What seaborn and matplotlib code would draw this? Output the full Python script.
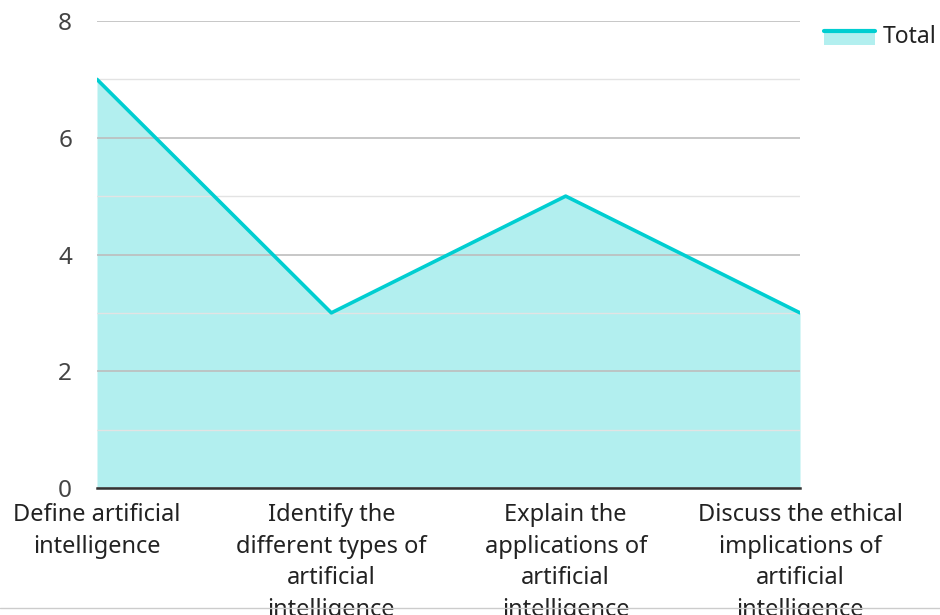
import matplotlib
matplotlib.use("Agg")
import matplotlib.pyplot as plt
import numpy as np
import pandas as pd
import seaborn as sns
from matplotlib.legend_handler import HandlerBase
from matplotlib.lines import Line2D
from matplotlib.patches import Rectangle
from matplotlib.ticker import MultipleLocator

categories = [
    "Define artificial\nintelligence",
    "Identify the\ndifferent types of\nartificial\nintelligence",
    "Explain the\napplications of\nartificial\nintelligence",
    "Discuss the ethical\nimplications of\nartificial\nintelligence",
]
totals = [7, 3, 5, 3]
series_name = "Total"

line_color = "#00CED1"
fill_color = "#B2EFEF"

sns.set_theme(style="white")
plt.rcParams["font.family"] = ["Noto Sans", "DejaVu Sans"]

df = pd.DataFrame({"pos": np.arange(len(categories)), "value": totals})

fig = plt.figure(figsize=(9.4, 6.15), dpi=100)
ax = fig.add_axes([97 / 940, 1 - 488 / 615, (800 - 97) / 940, (488 - 21) / 615])

ax.fill_between(df["pos"], df["value"], 0, color=fill_color, lw=0, zorder=1)
sns.lineplot(data=df, x="pos", y="value", color=line_color, lw=2.6, ax=ax, zorder=3)

ax.set_xlim(0, len(categories) - 1)
ax.set_ylim(0, 8)
ax.yaxis.set_major_locator(MultipleLocator(2))
ax.yaxis.set_minor_locator(MultipleLocator(1))
ax.set_axisbelow(False)
ax.grid(axis="y", which="major", color="#bdbdbd", lw=1.2, zorder=2)
ax.grid(axis="y", which="minor", color="#e3e3e3", lw=1.0, zorder=2)
ax.grid(axis="x", visible=False)

for s in ["top", "right", "left"]:
    ax.spines[s].set_visible(False)
ax.spines["bottom"].set_color("#333333")
ax.spines["bottom"].set_linewidth(1.8)
ax.spines["bottom"].set_zorder(4)

ax.set_xticks(df["pos"])
ax.set_xticklabels(categories, fontsize=17, color="#222222", linespacing=1.42)
ax.tick_params(axis="x", length=0, pad=11)
ax.tick_params(axis="y", which="both", length=0, pad=18, labelsize=17.5, labelcolor="#444444")
ax.set_xlabel("")
ax.set_ylabel("")


class FillLineHandler(HandlerBase):
    def create_artists(self, legend, orig_handle, xdescent, ydescent, width, height, fontsize, trans):
        top = -ydescent + height * 0.75
        r = Rectangle((-xdescent, -ydescent - height * 0.1), width, top + ydescent + height * 0.1,
                      fc=fill_color, ec="none", transform=trans)
        l = Line2D([-xdescent, -xdescent + width], [top, top], color=line_color, lw=3, transform=trans)
        return [r, l]


handle = Rectangle((0, 0), 1, 1)
leg = ax.legend([handle], [series_name], handler_map={Rectangle: FillLineHandler()},
                loc="upper left", bbox_to_anchor=(1.005, 1.035), frameon=False,
                fontsize=16.5, handlelength=2.2, handletextpad=0.35)
for t in leg.get_texts():
    t.set_color("#222222")

fig.add_artist(Line2D([0, 1], [1 - 608 / 615] * 2, color="#cccccc", lw=1, transform=fig.transFigure))

fig.savefig("out.png", dpi=100)
